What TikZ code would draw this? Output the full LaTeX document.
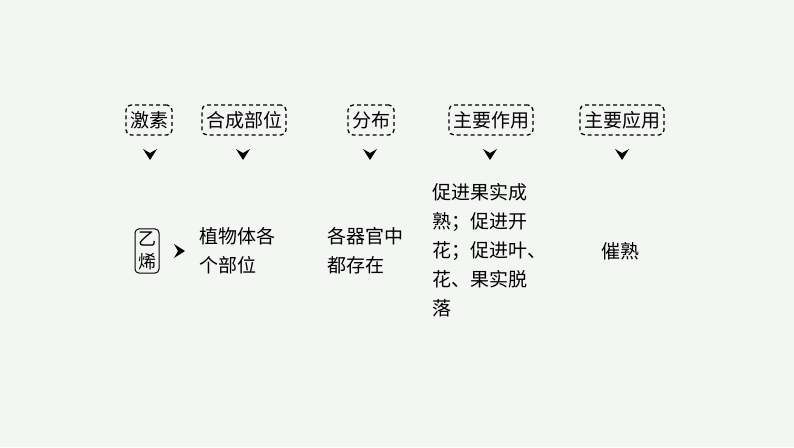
\documentclass[tikz,border=0pt]{standalone}
\usepackage{fontspec}
\newfontfamily\cjk{Noto Sans CJK SC}
\definecolor{bg}{HTML}{F3F6F3}
\tikzset{
 hd/.style={draw,dashed,line width=1.3pt,dash pattern=on 4pt off 3pt,rounded corners=5pt,inner sep=4pt,font=\cjk\fontsize{19}{21}\selectfont,minimum height=30pt},
 body/.style={font=\cjk\fontsize{19}{29}\selectfont,align=left,anchor=west,inner sep=0pt},
}
\newcommand{\chevd}[1]{\fill #1 ++(-7,-5) -- ++(7,11) -- ++(7,-11) -- ++(-7,4) -- cycle;}
\begin{document}
\begin{tikzpicture}[x=1pt,y=-1pt]
\fill[bg] (0,0) rectangle (794,447);
\useasboundingbox (0,0) rectangle (794,447);
\node[hd] (h1) at (149,120) {激素};
\node[hd] (h2) at (244,120) {合成部位};
\node[hd] (h3) at (371,120) {分布};
\node[hd] (h4) at (491,120) {主要作用};
\node[hd] (h5) at (622,120) {主要应用};
\foreach \x in {150,243,370,490,622}{
 \fill (\x,160) -- ++(-7,-11) -- ++(7,4) -- ++(7,-4) -- cycle;}
\node[draw,line width=1pt,rounded corners=4pt,inner sep=3pt,align=center,font=\cjk\fontsize{18}{23}\selectfont] (e) at (147,251) {乙\\烯};
\fill (185,251) -- ++(-11,-7) -- ++(4,7) -- ++(-4,7) -- cycle;
\node[body] (b2) at (199,251) {植物体各\\个部位};
\node[body] (b3) at (327,251) {各器官中\\都存在};
\node[body] (b4) at (432,250) {促进果实成\\熟；促进开\\花；促进叶、\\花、果实脱\\落};
\node[body] (b5) at (601,251) {催熟};
\end{tikzpicture}
\end{document}
